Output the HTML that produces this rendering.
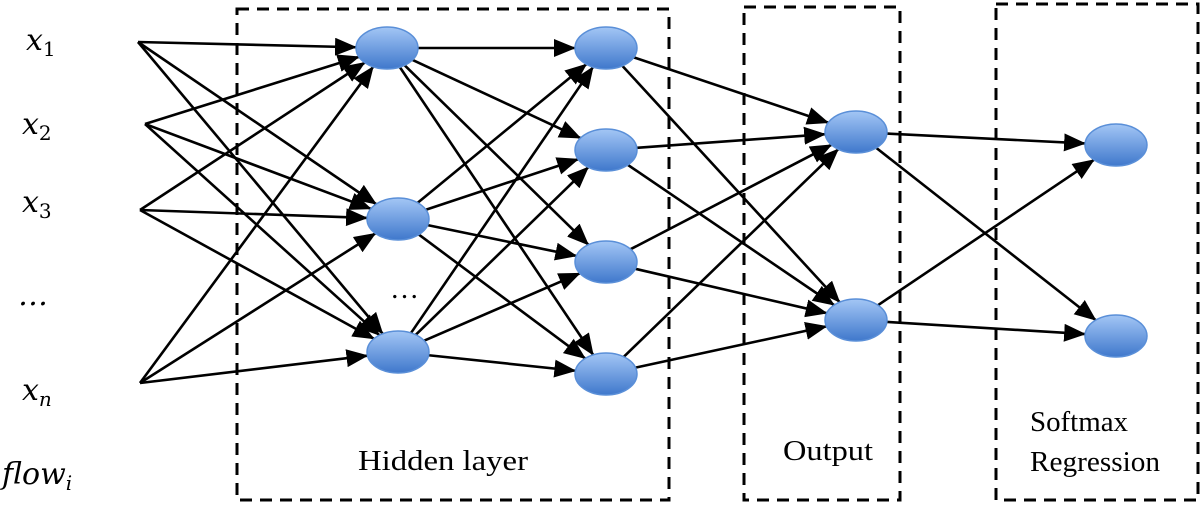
<!DOCTYPE html>
<html><head><meta charset="utf-8"><style>
html,body{margin:0;padding:0;background:#fff;}
svg{display:block}
.m{font-family:"DejaVu Serif","Liberation Serif",serif;font-style:italic;font-size:30px;fill:#000}
.t{font-family:"Liberation Serif",serif;font-size:29px;fill:#000}
</style></head><body>
<svg id="s" width="1200" height="506" viewBox="0 0 1200 506" xmlns="http://www.w3.org/2000/svg">
<defs>
<linearGradient id="g" x1="0" y1="0" x2="0" y2="1">
<stop offset="0" stop-color="#a3c6f5"/><stop offset="1" stop-color="#3f78cc"/></linearGradient>
<marker id="a" markerUnits="userSpaceOnUse" markerWidth="24" markerHeight="18" refX="21" refY="9" orient="auto">
<path d="M0,0 L22,9 L0,18 Z" fill="#000"/></marker>
</defs>
<g fill="none" stroke="#000" stroke-width="3" stroke-dasharray="12,8">
<rect x="237" y="9" width="432" height="491"/>
<rect x="744" y="7" width="156" height="493"/>
<rect x="996" y="4" width="202" height="496"/>
</g>
<g id="edges" stroke="#000" stroke-width="2.6"></g>
<g id="nodes"></g>
<text class="m" x="26" y="50">x<tspan font-size="20" dy="6" font-style="normal">1</tspan></text>
<text class="m" x="22" y="134">x<tspan font-size="20" dy="6" font-style="normal">2</tspan></text>
<text class="m" x="22" y="212">x<tspan font-size="20" dy="6" font-style="normal">3</tspan></text>
<text class="m" x="18" y="305" font-style="normal">…</text>
<text class="m" x="22" y="400">x<tspan font-size="20" dy="6">n</tspan></text>
<text class="m" x="2" y="484">flow<tspan font-size="20" dy="6">i</tspan></text>
<text class="t" x="390" y="298">…</text>
<text class="t" x="358" y="470" textLength="170" lengthAdjust="spacingAndGlyphs">Hidden layer</text>
<text class="t" x="783" y="460" textLength="90" lengthAdjust="spacingAndGlyphs">Output</text>
<text class="t" x="1030" y="431" textLength="98" lengthAdjust="spacingAndGlyphs">Softmax</text>
<text class="t" x="1030" y="471" textLength="130" lengthAdjust="spacingAndGlyphs">Regression</text>
</svg>
<script>
var NS="http://www.w3.org/2000/svg";
var RX=31,RY=21;
var inp=[[138,42],[145,124],[140,210],[140,383]];
var h1=[[387,48],[398,219],[398,352]];
var h2=[[606,48],[606,150],[606,262],[606,374]];
var out=[[856,132],[856,320]];
var sm=[[1116,145],[1116,336]];
function bnd(c,p){var dx=p[0]-c[0],dy=p[1]-c[1];var t=1/Math.sqrt(dx*dx/(RX*RX)+dy*dy/(RY*RY));return [c[0]+dx*t,c[1]+dy*t];}
var E=document.getElementById("edges"),N=document.getElementById("nodes");
function line(a,b,fromNode){var s=fromNode?bnd(a,b):a;var e=bnd(b,a);
var l=document.createElementNS(NS,"line");l.setAttribute("x1",s[0]);l.setAttribute("y1",s[1]);l.setAttribute("x2",e[0]);l.setAttribute("y2",e[1]);l.setAttribute("marker-end","url(#a)");E.appendChild(l);}
inp.forEach(function(a){h1.forEach(function(b){line(a,b,false);});});
h1.forEach(function(a){h2.forEach(function(b){line(a,b,true);});});
h2.forEach(function(a){out.forEach(function(b){line(a,b,true);});});
out.forEach(function(a){sm.forEach(function(b){line(a,b,true);});});
[h1,h2,out,sm].forEach(function(L){L.forEach(function(c){var e=document.createElementNS(NS,"ellipse");
e.setAttribute("cx",c[0]);e.setAttribute("cy",c[1]);e.setAttribute("rx",RX);e.setAttribute("ry",RY);
e.setAttribute("fill","url(#g)");e.setAttribute("stroke","#5a8fd8");e.setAttribute("stroke-width","1.5");N.appendChild(e);});});
</script>
</body></html>
